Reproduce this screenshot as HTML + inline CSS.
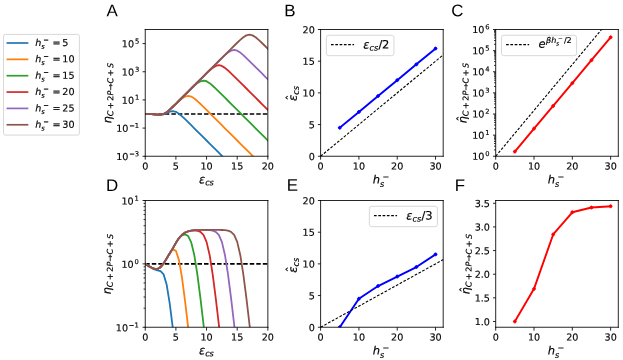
<!DOCTYPE html>
<html lang="en">
<head>
<meta charset="utf-8">
<title>Figure</title>
<style>
html,body{margin:0;padding:0;background:#fff;}
body{width:623px;height:360px;overflow:hidden;font-family:"DejaVu Sans","Liberation Sans",sans-serif;}
svg{display:block;}
svg text{text-rendering:geometricPrecision;stroke:#000;stroke-width:0.16px;}
</style>
</head>
<body>
<svg width="623" height="360" viewBox="0 0 623 360">
<defs>
<style>*{stroke-linejoin: round; stroke-linecap: butt}</style>
</defs>
<path d="M 0 360 L 623 360 L 623 0 L 0 0 z" style="fill: #ffffff"/>
<path d="M 145.25 156.25 L 267.85 156.25 L 267.85 29.5 L 145.25 29.5 z" style="fill: #ffffff"/>
<path d="M 145.25 114 L 267.85 114" clip-path="url(#p06cc8337af)" style="fill: none; stroke-dasharray: 4.5,2.03; stroke-dashoffset: 0; stroke: #000000; stroke-width: 1.55"/>
<path d="M 0 0 L 0 3.4" transform="translate(145.25 156.25)" style="stroke: #000000; stroke-width: 0.85"/>
<text style="font-size: 9.614px; font-family: 'DejaVu Sans', sans-serif; text-anchor: middle" transform="translate(145.25 169.624) matrix(1 0.001 0 1 0 0)">0</text>
<path d="M 0 0 L 0 3.4" transform="translate(175.9 156.25)" style="stroke: #000000; stroke-width: 0.85"/>
<text style="font-size: 9.614px; font-family: 'DejaVu Sans', sans-serif; text-anchor: middle" transform="translate(175.9 169.624) matrix(1 0.001 0 1 0 0)">5</text>
<path d="M 0 0 L 0 3.4" transform="translate(206.55 156.25)" style="stroke: #000000; stroke-width: 0.85"/>
<text style="font-size: 9.614px; font-family: 'DejaVu Sans', sans-serif; text-anchor: middle" transform="translate(206.55 169.624) matrix(1 0.001 0 1 0 0)">10</text>
<path d="M 0 0 L 0 3.4" transform="translate(237.2 156.25)" style="stroke: #000000; stroke-width: 0.85"/>
<text style="font-size: 9.614px; font-family: 'DejaVu Sans', sans-serif; text-anchor: middle" transform="translate(237.2 169.624) matrix(1 0.001 0 1 0 0)">15</text>
<path d="M 0 0 L 0 3.4" transform="translate(267.85 156.25)" style="stroke: #000000; stroke-width: 0.85"/>
<text style="font-size: 9.614px; font-family: 'DejaVu Sans', sans-serif; text-anchor: middle" transform="translate(267.85 169.624) matrix(1 0.001 0 1 0 0)">20</text>
<g transform="translate(198.936 183.535)">
<text transform="matrix(1 0.001 0 1 0 0)"><tspan x="0" y="-0.266" style="font-style: italic; font-size: 11.537px; font-family: 'DejaVu Sans', sans-serif">ε</tspan><tspan x="6.216" y="1.703" style="font-style: italic; font-size: 8.076px; font-family: 'DejaVu Sans', sans-serif">cs</tspan></text>
</g>
<path d="M 0 0 L -2.7 0" transform="translate(145.25 156.25)" style="stroke: #000000; stroke-width: 0.85"/>
<g transform="translate(116.888 160.053)">
<text transform="matrix(1 0.001 0 1 0 0)"><tspan x="-0.7" y="-0.064" style="font-size: 9.614px; font-family: 'DejaVu Sans', sans-serif">10</tspan><tspan x="12.343" y="-3.892" style="font-size: 6.73px; font-family: 'DejaVu Sans', sans-serif">−3</tspan></text>
</g>
<path d="M 0 0 L -2.7 0" transform="translate(145.25 128.083)" style="stroke: #000000; stroke-width: 0.85"/>
<g transform="translate(116.888 131.886)">
<text transform="matrix(1 0.001 0 1 0 0)"><tspan x="-0.7" y="-0.064" style="font-size: 9.614px; font-family: 'DejaVu Sans', sans-serif">10</tspan><tspan x="12.343" y="-3.892" style="font-size: 6.73px; font-family: 'DejaVu Sans', sans-serif">−1</tspan></text>
</g>
<path d="M 0 0 L -2.7 0" transform="translate(145.25 99.917)" style="stroke: #000000; stroke-width: 0.85"/>
<g transform="translate(122.56 103.719)">
<text transform="matrix(1 0.001 0 1 0 0)"><tspan x="-0.7" y="-0.064" style="font-size: 9.614px; font-family: 'DejaVu Sans', sans-serif">10</tspan><tspan x="12.343" y="-3.892" style="font-size: 6.73px; font-family: 'DejaVu Sans', sans-serif">1</tspan></text>
</g>
<path d="M 0 0 L -2.7 0" transform="translate(145.25 71.75)" style="stroke: #000000; stroke-width: 0.85"/>
<g transform="translate(122.56 75.553)">
<text transform="matrix(1 0.001 0 1 0 0)"><tspan x="-0.7" y="-0.064" style="font-size: 9.614px; font-family: 'DejaVu Sans', sans-serif">10</tspan><tspan x="12.343" y="-3.892" style="font-size: 6.73px; font-family: 'DejaVu Sans', sans-serif">3</tspan></text>
</g>
<path d="M 0 0 L -2.7 0" transform="translate(145.25 43.583)" style="stroke: #000000; stroke-width: 0.85"/>
<g transform="translate(122.56 47.386)">
<text transform="matrix(1 0.001 0 1 0 0)"><tspan x="-0.7" y="-0.064" style="font-size: 9.614px; font-family: 'DejaVu Sans', sans-serif">10</tspan><tspan x="12.343" y="-3.892" style="font-size: 6.73px; font-family: 'DejaVu Sans', sans-serif">5</tspan></text>
</g>
<g transform="translate(111.52 123.506) rotate(-90)">
<text transform="matrix(1 0.001 0 1 0 0)"><tspan x="0" y="-0.281" style="font-style: italic; font-size: 11.537px; font-family: 'DejaVu Sans', sans-serif">η</tspan><tspan x="7.289" y="1.688" style="font-style: italic; font-size: 8.076px; font-family: 'DejaVu Sans', sans-serif">C</tspan><tspan x="14.478" y="1.688" style="font-size: 8.076px; font-family: 'DejaVu Sans', sans-serif">+</tspan><tspan x="22.791" y="1.688" style="font-size: 8.076px; font-family: 'DejaVu Sans', sans-serif">2</tspan><tspan x="27.913" y="1.688" style="font-style: italic; font-size: 8.076px; font-family: 'DejaVu Sans', sans-serif">P</tspan><tspan x="33.029" y="1.688" style="font-size: 8.076px; font-family: 'DejaVu Sans', sans-serif">→</tspan><tspan x="40.035" y="1.688" style="font-style: italic; font-size: 8.076px; font-family: 'DejaVu Sans', sans-serif">C</tspan><tspan x="47.224" y="1.688" style="font-size: 8.076px; font-family: 'DejaVu Sans', sans-serif">+</tspan><tspan x="55.537" y="1.688" style="font-style: italic; font-size: 8.076px; font-family: 'DejaVu Sans', sans-serif">S</tspan></text>
</g>
<path d="M 145.25 113.991 L 148.315 114.051 L 151.38 114.192 L 154.445 114.456 L 157.51 114.796 L 160.575 114.928 L 163.64 114.374 L 166.705 113.055 L 169.77 111.639 L 172.835 111.056 L 175.9 111.825 L 178.965 113.749 L 182.03 116.329 L 185.095 119.201 L 188.16 122.189 L 191.225 125.221 L 194.29 128.27 L 197.355 131.324 L 200.42 134.381 L 203.485 137.439 L 206.55 140.497 L 209.615 143.555 L 212.68 146.613 L 215.745 149.671 L 218.81 152.73 L 221.875 155.788 L 224.94 158.846 L 228.005 161.904 L 231.07 164.962 L 234.135 168.02 L 237.2 171.078 L 240.265 174.137 L 243.33 177.195 L 246.395 180.253 L 249.46 183.311 L 252.525 186.369 L 255.59 189.427 L 258.655 192.486 L 261.72 195.544 L 264.785 198.602 L 267.85 201.66" clip-path="url(#p06cc8337af)" style="fill: none; stroke: #1f77b4; stroke-width: 1.8; stroke-linecap: square"/>
<path d="M 145.25 113.97 L 148.315 114.016 L 151.38 114.137 L 154.445 114.368 L 157.51 114.658 L 160.575 114.704 L 163.64 113.964 L 166.705 112.185 L 169.77 109.666 L 172.835 106.818 L 175.9 103.888 L 178.965 101.033 L 182.03 98.459 L 185.095 96.542 L 188.16 95.807 L 191.225 96.541 L 194.29 98.459 L 197.355 101.038 L 200.42 103.91 L 203.485 106.898 L 206.55 109.93 L 209.615 112.979 L 212.68 116.034 L 215.745 119.091 L 218.81 122.148 L 221.875 125.206 L 224.94 128.264 L 228.005 131.322 L 231.07 134.381 L 234.135 137.439 L 237.2 140.497 L 240.265 143.555 L 243.33 146.613 L 246.395 149.671 L 249.46 152.73 L 252.525 155.788 L 255.59 158.846 L 258.655 161.904 L 261.72 164.962 L 264.785 168.02 L 267.85 171.078" clip-path="url(#p06cc8337af)" style="fill: none; stroke: #ff7f0e; stroke-width: 1.8; stroke-linecap: square"/>
<path d="M 145.25 113.97 L 148.315 114.016 L 151.38 114.136 L 154.445 114.367 L 157.51 114.657 L 160.575 114.702 L 163.64 113.962 L 166.705 112.179 L 169.77 109.651 L 172.835 106.777 L 175.9 103.777 L 178.965 100.738 L 182.03 97.689 L 185.095 94.642 L 188.16 91.61 L 191.225 88.622 L 194.29 85.75 L 197.355 83.171 L 200.42 81.252 L 203.485 80.516 L 206.55 81.25 L 209.615 83.169 L 212.68 85.747 L 215.745 88.619 L 218.81 91.607 L 221.875 94.64 L 224.94 97.688 L 228.005 100.743 L 231.07 103.8 L 234.135 106.857 L 237.2 109.915 L 240.265 112.974 L 243.33 116.032 L 246.395 119.09 L 249.46 122.148 L 252.525 125.206 L 255.59 128.264 L 258.655 131.322 L 261.72 134.381 L 264.785 137.439 L 267.85 140.497" clip-path="url(#p06cc8337af)" style="fill: none; stroke: #2ca02c; stroke-width: 1.8; stroke-linecap: square"/>
<path d="M 145.25 113.97 L 148.315 114.016 L 151.38 114.136 L 154.445 114.367 L 157.51 114.657 L 160.575 114.702 L 163.64 113.962 L 166.705 112.179 L 169.77 109.65 L 172.835 106.776 L 175.9 103.776 L 178.965 100.736 L 182.03 97.683 L 185.095 94.627 L 188.16 91.569 L 191.225 88.512 L 194.29 85.455 L 197.355 82.4 L 200.42 79.352 L 203.485 76.319 L 206.55 73.331 L 209.615 70.459 L 212.68 67.88 L 215.745 65.961 L 218.81 65.226 L 221.875 65.96 L 224.94 67.878 L 228.005 70.457 L 231.07 73.329 L 234.135 76.317 L 237.2 79.349 L 240.265 82.398 L 243.33 85.452 L 246.395 88.509 L 249.46 91.567 L 252.525 94.625 L 255.59 97.683 L 258.655 100.741 L 261.72 103.799 L 264.785 106.857 L 267.85 109.915" clip-path="url(#p06cc8337af)" style="fill: none; stroke: #d62728; stroke-width: 1.8; stroke-linecap: square"/>
<path d="M 145.25 113.97 L 148.315 114.016 L 151.38 114.136 L 154.445 114.367 L 157.51 114.657 L 160.575 114.702 L 163.64 113.962 L 166.705 112.179 L 169.77 109.65 L 172.835 106.776 L 175.9 103.776 L 178.965 100.736 L 182.03 97.683 L 185.095 94.627 L 188.16 91.569 L 191.225 88.511 L 194.29 85.453 L 197.355 82.395 L 200.42 79.337 L 203.485 76.279 L 206.55 73.221 L 209.615 70.164 L 212.68 67.109 L 215.745 64.061 L 218.81 61.029 L 221.875 58.04 L 224.94 55.168 L 228.005 52.589 L 231.07 50.67 L 234.135 49.935 L 237.2 50.669 L 240.265 52.587 L 243.33 55.166 L 246.395 58.038 L 249.46 61.026 L 252.525 64.058 L 255.59 67.107 L 258.655 70.161 L 261.72 73.218 L 264.785 76.276 L 267.85 79.334" clip-path="url(#p06cc8337af)" style="fill: none; stroke: #9467bd; stroke-width: 1.8; stroke-linecap: square"/>
<path d="M 145.25 113.97 L 148.315 114.016 L 151.38 114.136 L 154.445 114.367 L 157.51 114.657 L 160.575 114.702 L 163.64 113.962 L 166.705 112.179 L 169.77 109.65 L 172.835 106.776 L 175.9 103.776 L 178.965 100.736 L 182.03 97.683 L 185.095 94.627 L 188.16 91.569 L 191.225 88.511 L 194.29 85.453 L 197.355 82.395 L 200.42 79.336 L 203.485 76.278 L 206.55 73.22 L 209.615 70.162 L 212.68 67.104 L 215.745 64.046 L 218.81 60.988 L 221.875 57.93 L 224.94 54.873 L 228.005 51.819 L 231.07 48.77 L 234.135 45.738 L 237.2 42.75 L 240.265 39.877 L 243.33 37.298 L 246.395 35.379 L 249.46 34.644 L 252.525 35.378 L 255.59 37.296 L 258.655 39.875 L 261.72 42.747 L 264.785 45.735 L 267.85 48.767" clip-path="url(#p06cc8337af)" style="fill: none; stroke: #8c564b; stroke-width: 1.8; stroke-linecap: square"/>
<path d="M 145.25 156.25 L 145.25 29.5" style="fill: none; stroke: #000000; stroke-width: 0.85; stroke-linejoin: miter; stroke-linecap: square"/>
<path d="M 267.85 156.25 L 267.85 29.5" style="fill: none; stroke: #000000; stroke-width: 0.85; stroke-linejoin: miter; stroke-linecap: square"/>
<path d="M 145.25 156.25 L 267.85 156.25" style="fill: none; stroke: #000000; stroke-width: 0.85; stroke-linejoin: miter; stroke-linecap: square"/>
<path d="M 145.25 29.5 L 267.85 29.5" style="fill: none; stroke: #000000; stroke-width: 0.85; stroke-linejoin: miter; stroke-linecap: square"/>
<path d="M 320.6 156.25 L 443.2 156.25 L 443.2 29.5 L 320.6 29.5 z" style="fill: #ffffff"/>
<path d="M 0 0 L 0 3.4" transform="translate(320.6 156.25)" style="stroke: #000000; stroke-width: 0.85"/>
<text style="font-size: 9.614px; font-family: 'DejaVu Sans', sans-serif; text-anchor: middle" transform="translate(320.6 169.624) matrix(1 0.001 0 1 0 0)">0</text>
<path d="M 0 0 L 0 3.4" transform="translate(358.913 156.25)" style="stroke: #000000; stroke-width: 0.85"/>
<text style="font-size: 9.614px; font-family: 'DejaVu Sans', sans-serif; text-anchor: middle" transform="translate(358.913 169.624) matrix(1 0.001 0 1 0 0)">10</text>
<path d="M 0 0 L 0 3.4" transform="translate(397.225 156.25)" style="stroke: #000000; stroke-width: 0.85"/>
<text style="font-size: 9.614px; font-family: 'DejaVu Sans', sans-serif; text-anchor: middle" transform="translate(397.225 169.624) matrix(1 0.001 0 1 0 0)">20</text>
<path d="M 0 0 L 0 3.4" transform="translate(435.538 156.25)" style="stroke: #000000; stroke-width: 0.85"/>
<text style="font-size: 9.614px; font-family: 'DejaVu Sans', sans-serif; text-anchor: middle" transform="translate(435.538 169.624) matrix(1 0.001 0 1 0 0)">30</text>
<g transform="translate(372.67 184.337)">
<text transform="matrix(1 0.001 0 1 0 0)"><tspan x="0" y="-0.875" style="font-style: italic; font-size: 11.537px; font-family: 'DejaVu Sans', sans-serif">h</tspan><tspan x="7.289" y="2.406" style="font-style: italic; font-size: 8.076px; font-family: 'DejaVu Sans', sans-serif">s</tspan><tspan x="9.752" y="-4.769" style="font-size: 8.076px; font-family: 'DejaVu Sans', sans-serif">−</tspan></text>
</g>
<path d="M 0 0 L -2.7 0" transform="translate(320.6 156.25)" style="stroke: #000000; stroke-width: 0.85"/>
<text style="font-size: 9.614px; font-family: 'DejaVu Sans', sans-serif; text-anchor: end" transform="translate(314.831 159.903) matrix(1 0.001 0 1 0 0)">0</text>
<path d="M 0 0 L -2.7 0" transform="translate(320.6 124.562)" style="stroke: #000000; stroke-width: 0.85"/>
<text style="font-size: 9.614px; font-family: 'DejaVu Sans', sans-serif; text-anchor: end" transform="translate(314.831 128.215) matrix(1 0.001 0 1 0 0)">5</text>
<path d="M 0 0 L -2.7 0" transform="translate(320.6 92.875)" style="stroke: #000000; stroke-width: 0.85"/>
<text style="font-size: 9.614px; font-family: 'DejaVu Sans', sans-serif; text-anchor: end" transform="translate(314.831 96.528) matrix(1 0.001 0 1 0 0)">10</text>
<path d="M 0 0 L -2.7 0" transform="translate(320.6 61.188)" style="stroke: #000000; stroke-width: 0.85"/>
<text style="font-size: 9.614px; font-family: 'DejaVu Sans', sans-serif; text-anchor: end" transform="translate(314.831 64.84) matrix(1 0.001 0 1 0 0)">15</text>
<path d="M 0 0 L -2.7 0" transform="translate(320.6 29.5)" style="stroke: #000000; stroke-width: 0.85"/>
<text style="font-size: 9.614px; font-family: 'DejaVu Sans', sans-serif; text-anchor: end" transform="translate(314.831 33.153) matrix(1 0.001 0 1 0 0)">20</text>
<g transform="translate(297.602 101.047) rotate(-90)">
<text transform="matrix(1 0.001 0 1 0 0)"><tspan x="0" y="-0.948" style="font-style: italic; font-size: 11.537px; font-family: 'DejaVu Sans', sans-serif">ε</tspan><tspan x="6.331" y="1.02" style="font-style: italic; font-size: 8.076px; font-family: 'DejaVu Sans', sans-serif">c</tspan><tspan x="6.426" y="-2.906" style="font-size: 11.537px; font-family: 'DejaVu Sans', sans-serif">̂</tspan><tspan x="10.757" y="1.02" style="font-style: italic; font-size: 8.076px; font-family: 'DejaVu Sans', sans-serif">s</tspan></text>
</g>
<path d="M 339.756 127.731 L 358.913 111.888 L 378.069 96.044 L 397.225 80.2 L 416.381 64.356 L 435.538 48.513" clip-path="url(#p2455b952e3)" style="fill: none; stroke: #0000ff; stroke-width: 1.923; stroke-linecap: square"/>
<g clip-path="url(#p2455b952e3)">
<path d="M 0 1.442 C 0.382 1.442 0.749 1.29 1.02 1.02 C 1.29 0.749 1.442 0.382 1.442 0 C 1.442 -0.382 1.29 -0.749 1.02 -1.02 C 0.749 -1.29 0.382 -1.442 0 -1.442 C -0.382 -1.442 -0.749 -1.29 -1.02 -1.02 C -1.29 -0.749 -1.442 -0.382 -1.442 0 C -1.442 0.382 -1.29 0.749 -1.02 1.02 C -0.749 1.29 -0.382 1.442 0 1.442 z" transform="translate(339.756 127.731)" style="fill: #0000ff; stroke: #0000ff; stroke-width: 0.961"/>
<path d="M 0 1.442 C 0.382 1.442 0.749 1.29 1.02 1.02 C 1.29 0.749 1.442 0.382 1.442 0 C 1.442 -0.382 1.29 -0.749 1.02 -1.02 C 0.749 -1.29 0.382 -1.442 0 -1.442 C -0.382 -1.442 -0.749 -1.29 -1.02 -1.02 C -1.29 -0.749 -1.442 -0.382 -1.442 0 C -1.442 0.382 -1.29 0.749 -1.02 1.02 C -0.749 1.29 -0.382 1.442 0 1.442 z" transform="translate(358.913 111.888)" style="fill: #0000ff; stroke: #0000ff; stroke-width: 0.961"/>
<path d="M 0 1.442 C 0.382 1.442 0.749 1.29 1.02 1.02 C 1.29 0.749 1.442 0.382 1.442 0 C 1.442 -0.382 1.29 -0.749 1.02 -1.02 C 0.749 -1.29 0.382 -1.442 0 -1.442 C -0.382 -1.442 -0.749 -1.29 -1.02 -1.02 C -1.29 -0.749 -1.442 -0.382 -1.442 0 C -1.442 0.382 -1.29 0.749 -1.02 1.02 C -0.749 1.29 -0.382 1.442 0 1.442 z" transform="translate(378.069 96.044)" style="fill: #0000ff; stroke: #0000ff; stroke-width: 0.961"/>
<path d="M 0 1.442 C 0.382 1.442 0.749 1.29 1.02 1.02 C 1.29 0.749 1.442 0.382 1.442 0 C 1.442 -0.382 1.29 -0.749 1.02 -1.02 C 0.749 -1.29 0.382 -1.442 0 -1.442 C -0.382 -1.442 -0.749 -1.29 -1.02 -1.02 C -1.29 -0.749 -1.442 -0.382 -1.442 0 C -1.442 0.382 -1.29 0.749 -1.02 1.02 C -0.749 1.29 -0.382 1.442 0 1.442 z" transform="translate(397.225 80.2)" style="fill: #0000ff; stroke: #0000ff; stroke-width: 0.961"/>
<path d="M 0 1.442 C 0.382 1.442 0.749 1.29 1.02 1.02 C 1.29 0.749 1.442 0.382 1.442 0 C 1.442 -0.382 1.29 -0.749 1.02 -1.02 C 0.749 -1.29 0.382 -1.442 0 -1.442 C -0.382 -1.442 -0.749 -1.29 -1.02 -1.02 C -1.29 -0.749 -1.442 -0.382 -1.442 0 C -1.442 0.382 -1.29 0.749 -1.02 1.02 C -0.749 1.29 -0.382 1.442 0 1.442 z" transform="translate(416.381 64.356)" style="fill: #0000ff; stroke: #0000ff; stroke-width: 0.961"/>
<path d="M 0 1.442 C 0.382 1.442 0.749 1.29 1.02 1.02 C 1.29 0.749 1.442 0.382 1.442 0 C 1.442 -0.382 1.29 -0.749 1.02 -1.02 C 0.749 -1.29 0.382 -1.442 0 -1.442 C -0.382 -1.442 -0.749 -1.29 -1.02 -1.02 C -1.29 -0.749 -1.442 -0.382 -1.442 0 C -1.442 0.382 -1.29 0.749 -1.02 1.02 C -0.749 1.29 -0.382 1.442 0 1.442 z" transform="translate(435.538 48.513)" style="fill: #0000ff; stroke: #0000ff; stroke-width: 0.961"/>
</g>
<path d="M 320.6 156.25 L 473.85 29.5" clip-path="url(#p2455b952e3)" style="fill: none; stroke-dasharray: 2.7,1.6; stroke-dashoffset: 0; stroke: #000000; stroke-width: 1.1"/>
<path d="M 320.6 156.25 L 320.6 29.5" style="fill: none; stroke: #000000; stroke-width: 0.85; stroke-linejoin: miter; stroke-linecap: square"/>
<path d="M 443.2 156.25 L 443.2 29.5" style="fill: none; stroke: #000000; stroke-width: 0.85; stroke-linejoin: miter; stroke-linecap: square"/>
<path d="M 320.6 156.25 L 443.2 156.25" style="fill: none; stroke: #000000; stroke-width: 0.85; stroke-linejoin: miter; stroke-linecap: square"/>
<path d="M 320.6 29.5 L 443.2 29.5" style="fill: none; stroke: #000000; stroke-width: 0.85; stroke-linejoin: miter; stroke-linecap: square"/>
<path d="M 328.676 55.664 L 391.668 55.664 Q 393.976 55.664 393.976 53.356 L 393.976 37.576 Q 393.976 35.269 391.668 35.269 L 328.676 35.269 Q 326.369 35.269 326.369 37.576 L 326.369 53.356 Q 326.369 55.664 328.676 55.664 z" style="fill: #ffffff; opacity: 0.8; stroke: #cccccc; stroke-width: 0.961; stroke-linejoin: miter"/>
<path d="M 330.983 44.612 L 342.52 44.612 L 354.057 44.612" style="fill: none; stroke-dasharray: 2.7,1.6; stroke-dashoffset: 0; stroke: #000000; stroke-width: 1.1"/>
<g transform="translate(363.287 48.65)">
<text transform="matrix(1 0.001 0 1 0 0)"><tspan x="0" y="-0.094" style="font-style: italic; font-size: 11.537px; font-family: 'DejaVu Sans', sans-serif">ε</tspan><tspan x="6.216" y="1.875" style="font-style: italic; font-size: 8.076px; font-family: 'DejaVu Sans', sans-serif">cs</tspan><tspan x="15.164" y="-0.094" style="font-size: 11.537px; font-family: 'DejaVu Sans', sans-serif">/</tspan><tspan x="18.664" y="-0.094" style="font-size: 11.537px; font-family: 'DejaVu Sans', sans-serif">2</tspan></text>
</g>
<path d="M 495.7 156.25 L 618.3 156.25 L 618.3 29.5 L 495.7 29.5 z" style="fill: #ffffff"/>
<path d="M 0 0 L 0 3.4" transform="translate(495.7 156.25)" style="stroke: #000000; stroke-width: 0.85"/>
<text style="font-size: 9.614px; font-family: 'DejaVu Sans', sans-serif; text-anchor: middle" transform="translate(495.7 169.624) matrix(1 0.001 0 1 0 0)">0</text>
<path d="M 0 0 L 0 3.4" transform="translate(534.013 156.25)" style="stroke: #000000; stroke-width: 0.85"/>
<text style="font-size: 9.614px; font-family: 'DejaVu Sans', sans-serif; text-anchor: middle" transform="translate(534.013 169.624) matrix(1 0.001 0 1 0 0)">10</text>
<path d="M 0 0 L 0 3.4" transform="translate(572.325 156.25)" style="stroke: #000000; stroke-width: 0.85"/>
<text style="font-size: 9.614px; font-family: 'DejaVu Sans', sans-serif; text-anchor: middle" transform="translate(572.325 169.624) matrix(1 0.001 0 1 0 0)">20</text>
<path d="M 0 0 L 0 3.4" transform="translate(610.638 156.25)" style="stroke: #000000; stroke-width: 0.85"/>
<text style="font-size: 9.614px; font-family: 'DejaVu Sans', sans-serif; text-anchor: middle" transform="translate(610.638 169.624) matrix(1 0.001 0 1 0 0)">30</text>
<g transform="translate(547.77 184.337)">
<text transform="matrix(1 0.001 0 1 0 0)"><tspan x="0" y="-0.875" style="font-style: italic; font-size: 11.537px; font-family: 'DejaVu Sans', sans-serif">h</tspan><tspan x="7.289" y="2.406" style="font-style: italic; font-size: 8.076px; font-family: 'DejaVu Sans', sans-serif">s</tspan><tspan x="9.752" y="-4.769" style="font-size: 8.076px; font-family: 'DejaVu Sans', sans-serif">−</tspan></text>
</g>
<path d="M 0 0 L -2.7 0" transform="translate(495.7 156.25)" style="stroke: #000000; stroke-width: 0.85"/>
<g transform="translate(472.91 159.903)">
<text transform="matrix(1 0.001 0 1 0 0)"><tspan x="-0.7" y="-0.064" style="font-size: 9.614px; font-family: 'DejaVu Sans', sans-serif">10</tspan><tspan x="12.343" y="-3.892" style="font-size: 6.73px; font-family: 'DejaVu Sans', sans-serif">0</tspan></text>
</g>
<path d="M 0 0 L -2.7 0" transform="translate(495.7 135.125)" style="stroke: #000000; stroke-width: 0.85"/>
<g transform="translate(472.91 138.778)">
<text transform="matrix(1 0.001 0 1 0 0)"><tspan x="-0.7" y="-0.064" style="font-size: 9.614px; font-family: 'DejaVu Sans', sans-serif">10</tspan><tspan x="12.343" y="-3.892" style="font-size: 6.73px; font-family: 'DejaVu Sans', sans-serif">1</tspan></text>
</g>
<path d="M 0 0 L -2.7 0" transform="translate(495.7 114)" style="stroke: #000000; stroke-width: 0.85"/>
<g transform="translate(472.91 117.653)">
<text transform="matrix(1 0.001 0 1 0 0)"><tspan x="-0.7" y="-0.064" style="font-size: 9.614px; font-family: 'DejaVu Sans', sans-serif">10</tspan><tspan x="12.343" y="-3.892" style="font-size: 6.73px; font-family: 'DejaVu Sans', sans-serif">2</tspan></text>
</g>
<path d="M 0 0 L -2.7 0" transform="translate(495.7 92.875)" style="stroke: #000000; stroke-width: 0.85"/>
<g transform="translate(472.91 96.528)">
<text transform="matrix(1 0.001 0 1 0 0)"><tspan x="-0.7" y="-0.064" style="font-size: 9.614px; font-family: 'DejaVu Sans', sans-serif">10</tspan><tspan x="12.343" y="-3.892" style="font-size: 6.73px; font-family: 'DejaVu Sans', sans-serif">3</tspan></text>
</g>
<path d="M 0 0 L -2.7 0" transform="translate(495.7 71.75)" style="stroke: #000000; stroke-width: 0.85"/>
<g transform="translate(472.91 75.403)">
<text transform="matrix(1 0.001 0 1 0 0)"><tspan x="-0.7" y="-0.064" style="font-size: 9.614px; font-family: 'DejaVu Sans', sans-serif">10</tspan><tspan x="12.343" y="-3.892" style="font-size: 6.73px; font-family: 'DejaVu Sans', sans-serif">4</tspan></text>
</g>
<path d="M 0 0 L -2.7 0" transform="translate(495.7 50.625)" style="stroke: #000000; stroke-width: 0.85"/>
<g transform="translate(472.91 54.278)">
<text transform="matrix(1 0.001 0 1 0 0)"><tspan x="-0.7" y="-0.064" style="font-size: 9.614px; font-family: 'DejaVu Sans', sans-serif">10</tspan><tspan x="12.343" y="-3.892" style="font-size: 6.73px; font-family: 'DejaVu Sans', sans-serif">5</tspan></text>
</g>
<path d="M 0 0 L -2.7 0" transform="translate(495.7 29.5)" style="stroke: #000000; stroke-width: 0.85"/>
<g transform="translate(472.91 33.153)">
<text transform="matrix(1 0.001 0 1 0 0)"><tspan x="-0.7" y="-0.064" style="font-size: 9.614px; font-family: 'DejaVu Sans', sans-serif">10</tspan><tspan x="12.343" y="-3.892" style="font-size: 6.73px; font-family: 'DejaVu Sans', sans-serif">6</tspan></text>
</g>
<path d="M 0 0 L -1.7 0" transform="translate(495.7 149.891)" style="stroke: #000000; stroke-width: 0.8"/>
<path d="M 0 0 L -1.7 0" transform="translate(495.7 146.171)" style="stroke: #000000; stroke-width: 0.8"/>
<path d="M 0 0 L -1.7 0" transform="translate(495.7 143.531)" style="stroke: #000000; stroke-width: 0.8"/>
<path d="M 0 0 L -1.7 0" transform="translate(495.7 141.484)" style="stroke: #000000; stroke-width: 0.8"/>
<path d="M 0 0 L -1.7 0" transform="translate(495.7 139.812)" style="stroke: #000000; stroke-width: 0.8"/>
<path d="M 0 0 L -1.7 0" transform="translate(495.7 138.397)" style="stroke: #000000; stroke-width: 0.8"/>
<path d="M 0 0 L -1.7 0" transform="translate(495.7 137.172)" style="stroke: #000000; stroke-width: 0.8"/>
<path d="M 0 0 L -1.7 0" transform="translate(495.7 136.092)" style="stroke: #000000; stroke-width: 0.8"/>
<path d="M 0 0 L -1.7 0" transform="translate(495.7 128.766)" style="stroke: #000000; stroke-width: 0.8"/>
<path d="M 0 0 L -1.7 0" transform="translate(495.7 125.046)" style="stroke: #000000; stroke-width: 0.8"/>
<path d="M 0 0 L -1.7 0" transform="translate(495.7 122.406)" style="stroke: #000000; stroke-width: 0.8"/>
<path d="M 0 0 L -1.7 0" transform="translate(495.7 120.359)" style="stroke: #000000; stroke-width: 0.8"/>
<path d="M 0 0 L -1.7 0" transform="translate(495.7 118.687)" style="stroke: #000000; stroke-width: 0.8"/>
<path d="M 0 0 L -1.7 0" transform="translate(495.7 117.272)" style="stroke: #000000; stroke-width: 0.8"/>
<path d="M 0 0 L -1.7 0" transform="translate(495.7 116.047)" style="stroke: #000000; stroke-width: 0.8"/>
<path d="M 0 0 L -1.7 0" transform="translate(495.7 114.967)" style="stroke: #000000; stroke-width: 0.8"/>
<path d="M 0 0 L -1.7 0" transform="translate(495.7 107.641)" style="stroke: #000000; stroke-width: 0.8"/>
<path d="M 0 0 L -1.7 0" transform="translate(495.7 103.921)" style="stroke: #000000; stroke-width: 0.8"/>
<path d="M 0 0 L -1.7 0" transform="translate(495.7 101.281)" style="stroke: #000000; stroke-width: 0.8"/>
<path d="M 0 0 L -1.7 0" transform="translate(495.7 99.234)" style="stroke: #000000; stroke-width: 0.8"/>
<path d="M 0 0 L -1.7 0" transform="translate(495.7 97.562)" style="stroke: #000000; stroke-width: 0.8"/>
<path d="M 0 0 L -1.7 0" transform="translate(495.7 96.147)" style="stroke: #000000; stroke-width: 0.8"/>
<path d="M 0 0 L -1.7 0" transform="translate(495.7 94.922)" style="stroke: #000000; stroke-width: 0.8"/>
<path d="M 0 0 L -1.7 0" transform="translate(495.7 93.842)" style="stroke: #000000; stroke-width: 0.8"/>
<path d="M 0 0 L -1.7 0" transform="translate(495.7 86.516)" style="stroke: #000000; stroke-width: 0.8"/>
<path d="M 0 0 L -1.7 0" transform="translate(495.7 82.796)" style="stroke: #000000; stroke-width: 0.8"/>
<path d="M 0 0 L -1.7 0" transform="translate(495.7 80.156)" style="stroke: #000000; stroke-width: 0.8"/>
<path d="M 0 0 L -1.7 0" transform="translate(495.7 78.109)" style="stroke: #000000; stroke-width: 0.8"/>
<path d="M 0 0 L -1.7 0" transform="translate(495.7 76.437)" style="stroke: #000000; stroke-width: 0.8"/>
<path d="M 0 0 L -1.7 0" transform="translate(495.7 75.022)" style="stroke: #000000; stroke-width: 0.8"/>
<path d="M 0 0 L -1.7 0" transform="translate(495.7 73.797)" style="stroke: #000000; stroke-width: 0.8"/>
<path d="M 0 0 L -1.7 0" transform="translate(495.7 72.717)" style="stroke: #000000; stroke-width: 0.8"/>
<path d="M 0 0 L -1.7 0" transform="translate(495.7 65.391)" style="stroke: #000000; stroke-width: 0.8"/>
<path d="M 0 0 L -1.7 0" transform="translate(495.7 61.671)" style="stroke: #000000; stroke-width: 0.8"/>
<path d="M 0 0 L -1.7 0" transform="translate(495.7 59.031)" style="stroke: #000000; stroke-width: 0.8"/>
<path d="M 0 0 L -1.7 0" transform="translate(495.7 56.984)" style="stroke: #000000; stroke-width: 0.8"/>
<path d="M 0 0 L -1.7 0" transform="translate(495.7 55.312)" style="stroke: #000000; stroke-width: 0.8"/>
<path d="M 0 0 L -1.7 0" transform="translate(495.7 53.897)" style="stroke: #000000; stroke-width: 0.8"/>
<path d="M 0 0 L -1.7 0" transform="translate(495.7 52.672)" style="stroke: #000000; stroke-width: 0.8"/>
<path d="M 0 0 L -1.7 0" transform="translate(495.7 51.592)" style="stroke: #000000; stroke-width: 0.8"/>
<path d="M 0 0 L -1.7 0" transform="translate(495.7 44.266)" style="stroke: #000000; stroke-width: 0.8"/>
<path d="M 0 0 L -1.7 0" transform="translate(495.7 40.546)" style="stroke: #000000; stroke-width: 0.8"/>
<path d="M 0 0 L -1.7 0" transform="translate(495.7 37.906)" style="stroke: #000000; stroke-width: 0.8"/>
<path d="M 0 0 L -1.7 0" transform="translate(495.7 35.859)" style="stroke: #000000; stroke-width: 0.8"/>
<path d="M 0 0 L -1.7 0" transform="translate(495.7 34.187)" style="stroke: #000000; stroke-width: 0.8"/>
<path d="M 0 0 L -1.7 0" transform="translate(495.7 32.772)" style="stroke: #000000; stroke-width: 0.8"/>
<path d="M 0 0 L -1.7 0" transform="translate(495.7 31.547)" style="stroke: #000000; stroke-width: 0.8"/>
<path d="M 0 0 L -1.7 0" transform="translate(495.7 30.467)" style="stroke: #000000; stroke-width: 0.8"/>
<g transform="translate(467.542 123.564) rotate(-90)">
<text transform="matrix(1 0.001 0 1 0 0)"><tspan x="0" y="-0.964" style="font-style: italic; font-size: 11.537px; font-family: 'DejaVu Sans', sans-serif">η</tspan><tspan x="7.403" y="1.005" style="font-style: italic; font-size: 8.076px; font-family: 'DejaVu Sans', sans-serif">C</tspan><tspan x="7.894" y="-2.106" style="font-size: 11.537px; font-family: 'DejaVu Sans', sans-serif">̂</tspan><tspan x="14.593" y="1.005" style="font-size: 8.076px; font-family: 'DejaVu Sans', sans-serif">+</tspan><tspan x="22.906" y="1.005" style="font-size: 8.076px; font-family: 'DejaVu Sans', sans-serif">2</tspan><tspan x="28.028" y="1.005" style="font-style: italic; font-size: 8.076px; font-family: 'DejaVu Sans', sans-serif">P</tspan><tspan x="33.143" y="1.005" style="font-size: 8.076px; font-family: 'DejaVu Sans', sans-serif">→</tspan><tspan x="40.15" y="1.005" style="font-style: italic; font-size: 8.076px; font-family: 'DejaVu Sans', sans-serif">C</tspan><tspan x="47.339" y="1.005" style="font-size: 8.076px; font-family: 'DejaVu Sans', sans-serif">+</tspan><tspan x="55.652" y="1.005" style="font-style: italic; font-size: 8.076px; font-family: 'DejaVu Sans', sans-serif">S</tspan></text>
</g>
<path d="M 514.856 151.602 L 534.013 128.576 L 553.169 105.972 L 572.325 83.157 L 591.481 60.195 L 610.638 37.316" clip-path="url(#p77d1679cb2)" style="fill: none; stroke: #ff0000; stroke-width: 1.923; stroke-linecap: square"/>
<g clip-path="url(#p77d1679cb2)">
<path d="M 0 1.442 C 0.382 1.442 0.749 1.29 1.02 1.02 C 1.29 0.749 1.442 0.382 1.442 0 C 1.442 -0.382 1.29 -0.749 1.02 -1.02 C 0.749 -1.29 0.382 -1.442 0 -1.442 C -0.382 -1.442 -0.749 -1.29 -1.02 -1.02 C -1.29 -0.749 -1.442 -0.382 -1.442 0 C -1.442 0.382 -1.29 0.749 -1.02 1.02 C -0.749 1.29 -0.382 1.442 0 1.442 z" transform="translate(514.856 151.602)" style="fill: #ff0000; stroke: #ff0000; stroke-width: 0.961"/>
<path d="M 0 1.442 C 0.382 1.442 0.749 1.29 1.02 1.02 C 1.29 0.749 1.442 0.382 1.442 0 C 1.442 -0.382 1.29 -0.749 1.02 -1.02 C 0.749 -1.29 0.382 -1.442 0 -1.442 C -0.382 -1.442 -0.749 -1.29 -1.02 -1.02 C -1.29 -0.749 -1.442 -0.382 -1.442 0 C -1.442 0.382 -1.29 0.749 -1.02 1.02 C -0.749 1.29 -0.382 1.442 0 1.442 z" transform="translate(534.013 128.576)" style="fill: #ff0000; stroke: #ff0000; stroke-width: 0.961"/>
<path d="M 0 1.442 C 0.382 1.442 0.749 1.29 1.02 1.02 C 1.29 0.749 1.442 0.382 1.442 0 C 1.442 -0.382 1.29 -0.749 1.02 -1.02 C 0.749 -1.29 0.382 -1.442 0 -1.442 C -0.382 -1.442 -0.749 -1.29 -1.02 -1.02 C -1.29 -0.749 -1.442 -0.382 -1.442 0 C -1.442 0.382 -1.29 0.749 -1.02 1.02 C -0.749 1.29 -0.382 1.442 0 1.442 z" transform="translate(553.169 105.972)" style="fill: #ff0000; stroke: #ff0000; stroke-width: 0.961"/>
<path d="M 0 1.442 C 0.382 1.442 0.749 1.29 1.02 1.02 C 1.29 0.749 1.442 0.382 1.442 0 C 1.442 -0.382 1.29 -0.749 1.02 -1.02 C 0.749 -1.29 0.382 -1.442 0 -1.442 C -0.382 -1.442 -0.749 -1.29 -1.02 -1.02 C -1.29 -0.749 -1.442 -0.382 -1.442 0 C -1.442 0.382 -1.29 0.749 -1.02 1.02 C -0.749 1.29 -0.382 1.442 0 1.442 z" transform="translate(572.325 83.157)" style="fill: #ff0000; stroke: #ff0000; stroke-width: 0.961"/>
<path d="M 0 1.442 C 0.382 1.442 0.749 1.29 1.02 1.02 C 1.29 0.749 1.442 0.382 1.442 0 C 1.442 -0.382 1.29 -0.749 1.02 -1.02 C 0.749 -1.29 0.382 -1.442 0 -1.442 C -0.382 -1.442 -0.749 -1.29 -1.02 -1.02 C -1.29 -0.749 -1.442 -0.382 -1.442 0 C -1.442 0.382 -1.29 0.749 -1.02 1.02 C -0.749 1.29 -0.382 1.442 0 1.442 z" transform="translate(591.481 60.195)" style="fill: #ff0000; stroke: #ff0000; stroke-width: 0.961"/>
<path d="M 0 1.442 C 0.382 1.442 0.749 1.29 1.02 1.02 C 1.29 0.749 1.442 0.382 1.442 0 C 1.442 -0.382 1.29 -0.749 1.02 -1.02 C 0.749 -1.29 0.382 -1.442 0 -1.442 C -0.382 -1.442 -0.749 -1.29 -1.02 -1.02 C -1.29 -0.749 -1.442 -0.382 -1.442 0 C -1.442 0.382 -1.29 0.749 -1.02 1.02 C -0.749 1.29 -0.382 1.442 0 1.442 z" transform="translate(610.638 37.316)" style="fill: #ff0000; stroke: #ff0000; stroke-width: 0.961"/>
</g>
<path d="M 495.7 156.25 L 624 2.634" clip-path="url(#p77d1679cb2)" style="fill: none; stroke-dasharray: 2.7,1.6; stroke-dashoffset: 0; stroke: #000000; stroke-width: 1.1"/>
<path d="M 495.7 156.25 L 495.7 29.5" style="fill: none; stroke: #000000; stroke-width: 0.85; stroke-linejoin: miter; stroke-linecap: square"/>
<path d="M 618.3 156.25 L 618.3 29.5" style="fill: none; stroke: #000000; stroke-width: 0.85; stroke-linejoin: miter; stroke-linecap: square"/>
<path d="M 495.7 156.25 L 618.3 156.25" style="fill: none; stroke: #000000; stroke-width: 0.85; stroke-linejoin: miter; stroke-linecap: square"/>
<path d="M 495.7 29.5 L 618.3 29.5" style="fill: none; stroke: #000000; stroke-width: 0.85; stroke-linejoin: miter; stroke-linecap: square"/>
<path d="M 503.776 55.664 L 574.267 55.664 Q 576.575 55.664 576.575 53.356 L 576.575 37.576 Q 576.575 35.269 574.267 35.269 L 503.776 35.269 Q 501.469 35.269 501.469 37.576 L 501.469 53.356 Q 501.469 55.664 503.776 55.664 z" style="fill: #ffffff; opacity: 0.8; stroke: #cccccc; stroke-width: 0.961; stroke-linejoin: miter"/>
<path d="M 506.083 44.612 L 517.62 44.612 L 529.157 44.612" style="fill: none; stroke-dasharray: 2.7,1.6; stroke-dashoffset: 0; stroke: #000000; stroke-width: 1.1"/>
<g transform="translate(538.387 48.65)">
<text transform="matrix(1 0.001 0 1 0 0)"><tspan x="0" y="-0.975" style="font-style: italic; font-size: 11.537px; font-family: 'DejaVu Sans', sans-serif">e</tspan><tspan x="7.633" y="-5.569" style="font-style: italic; font-size: 8.076px; font-family: 'DejaVu Sans', sans-serif">βh</tspan><tspan x="17.872" y="-3.272" style="font-style: italic; font-size: 5.653px; font-family: 'DejaVu Sans', sans-serif">s</tspan><tspan x="19.597" y="-8.784" style="font-size: 5.653px; font-family: 'DejaVu Sans', sans-serif">−</tspan><tspan x="25.646" y="-5.569" style="font-size: 8.076px; font-family: 'DejaVu Sans', sans-serif">/</tspan><tspan x="28.095" y="-5.569" style="font-size: 8.076px; font-family: 'DejaVu Sans', sans-serif">2</tspan></text>
</g>
<path d="M 145.25 327.25 L 267.85 327.25 L 267.85 200.5 L 145.25 200.5 z" style="fill: #ffffff"/>
<path d="M 145.25 263.875 L 267.85 263.875" clip-path="url(#p5957c09c68)" style="fill: none; stroke-dasharray: 4.5,2.03; stroke-dashoffset: 0; stroke: #000000; stroke-width: 1.55"/>
<path d="M 0 0 L 0 3.4" transform="translate(145.25 327.25)" style="stroke: #000000; stroke-width: 0.85"/>
<text style="font-size: 9.614px; font-family: 'DejaVu Sans', sans-serif; text-anchor: middle" transform="translate(145.25 340.624) matrix(1 0.001 0 1 0 0)">0</text>
<path d="M 0 0 L 0 3.4" transform="translate(175.9 327.25)" style="stroke: #000000; stroke-width: 0.85"/>
<text style="font-size: 9.614px; font-family: 'DejaVu Sans', sans-serif; text-anchor: middle" transform="translate(175.9 340.624) matrix(1 0.001 0 1 0 0)">5</text>
<path d="M 0 0 L 0 3.4" transform="translate(206.55 327.25)" style="stroke: #000000; stroke-width: 0.85"/>
<text style="font-size: 9.614px; font-family: 'DejaVu Sans', sans-serif; text-anchor: middle" transform="translate(206.55 340.624) matrix(1 0.001 0 1 0 0)">10</text>
<path d="M 0 0 L 0 3.4" transform="translate(237.2 327.25)" style="stroke: #000000; stroke-width: 0.85"/>
<text style="font-size: 9.614px; font-family: 'DejaVu Sans', sans-serif; text-anchor: middle" transform="translate(237.2 340.624) matrix(1 0.001 0 1 0 0)">15</text>
<path d="M 0 0 L 0 3.4" transform="translate(267.85 327.25)" style="stroke: #000000; stroke-width: 0.85"/>
<text style="font-size: 9.614px; font-family: 'DejaVu Sans', sans-serif; text-anchor: middle" transform="translate(267.85 340.624) matrix(1 0.001 0 1 0 0)">20</text>
<g transform="translate(198.936 354.535)">
<text transform="matrix(1 0.001 0 1 0 0)"><tspan x="0" y="-0.266" style="font-style: italic; font-size: 11.537px; font-family: 'DejaVu Sans', sans-serif">ε</tspan><tspan x="6.216" y="1.703" style="font-style: italic; font-size: 8.076px; font-family: 'DejaVu Sans', sans-serif">cs</tspan></text>
</g>
<path d="M 0 0 L -2.7 0" transform="translate(145.25 327.25)" style="stroke: #000000; stroke-width: 0.85"/>
<g transform="translate(116.488 331.303)">
<text transform="matrix(1 0.001 0 1 0 0)"><tspan x="-0.7" y="-0.064" style="font-size: 9.614px; font-family: 'DejaVu Sans', sans-serif">10</tspan><tspan x="12.343" y="-3.892" style="font-size: 6.73px; font-family: 'DejaVu Sans', sans-serif">−1</tspan></text>
</g>
<path d="M 0 0 L -2.7 0" transform="translate(145.25 263.875)" style="stroke: #000000; stroke-width: 0.85"/>
<g transform="translate(122.16 267.928)">
<text transform="matrix(1 0.001 0 1 0 0)"><tspan x="-0.7" y="-0.064" style="font-size: 9.614px; font-family: 'DejaVu Sans', sans-serif">10</tspan><tspan x="12.343" y="-3.892" style="font-size: 6.73px; font-family: 'DejaVu Sans', sans-serif">0</tspan></text>
</g>
<path d="M 0 0 L -2.7 0" transform="translate(145.25 200.5)" style="stroke: #000000; stroke-width: 0.85"/>
<g transform="translate(122.16 204.553)">
<text transform="matrix(1 0.001 0 1 0 0)"><tspan x="-0.7" y="-0.064" style="font-size: 9.614px; font-family: 'DejaVu Sans', sans-serif">10</tspan><tspan x="12.343" y="-3.892" style="font-size: 6.73px; font-family: 'DejaVu Sans', sans-serif">1</tspan></text>
</g>
<path d="M 0 0 L -1.7 0" transform="translate(145.25 308.172)" style="stroke: #000000; stroke-width: 0.8"/>
<path d="M 0 0 L -1.7 0" transform="translate(145.25 297.012)" style="stroke: #000000; stroke-width: 0.8"/>
<path d="M 0 0 L -1.7 0" transform="translate(145.25 289.094)" style="stroke: #000000; stroke-width: 0.8"/>
<path d="M 0 0 L -1.7 0" transform="translate(145.25 282.953)" style="stroke: #000000; stroke-width: 0.8"/>
<path d="M 0 0 L -1.7 0" transform="translate(145.25 277.935)" style="stroke: #000000; stroke-width: 0.8"/>
<path d="M 0 0 L -1.7 0" transform="translate(145.25 273.692)" style="stroke: #000000; stroke-width: 0.8"/>
<path d="M 0 0 L -1.7 0" transform="translate(145.25 270.017)" style="stroke: #000000; stroke-width: 0.8"/>
<path d="M 0 0 L -1.7 0" transform="translate(145.25 266.775)" style="stroke: #000000; stroke-width: 0.8"/>
<path d="M 0 0 L -1.7 0" transform="translate(145.25 244.797)" style="stroke: #000000; stroke-width: 0.8"/>
<path d="M 0 0 L -1.7 0" transform="translate(145.25 233.637)" style="stroke: #000000; stroke-width: 0.8"/>
<path d="M 0 0 L -1.7 0" transform="translate(145.25 225.719)" style="stroke: #000000; stroke-width: 0.8"/>
<path d="M 0 0 L -1.7 0" transform="translate(145.25 219.578)" style="stroke: #000000; stroke-width: 0.8"/>
<path d="M 0 0 L -1.7 0" transform="translate(145.25 214.56)" style="stroke: #000000; stroke-width: 0.8"/>
<path d="M 0 0 L -1.7 0" transform="translate(145.25 210.317)" style="stroke: #000000; stroke-width: 0.8"/>
<path d="M 0 0 L -1.7 0" transform="translate(145.25 206.642)" style="stroke: #000000; stroke-width: 0.8"/>
<path d="M 0 0 L -1.7 0" transform="translate(145.25 203.4)" style="stroke: #000000; stroke-width: 0.8"/>
<g transform="translate(111.12 294.506) rotate(-90)">
<text transform="matrix(1 0.001 0 1 0 0)"><tspan x="0" y="-0.281" style="font-style: italic; font-size: 11.537px; font-family: 'DejaVu Sans', sans-serif">η</tspan><tspan x="7.289" y="1.688" style="font-style: italic; font-size: 8.076px; font-family: 'DejaVu Sans', sans-serif">C</tspan><tspan x="14.478" y="1.688" style="font-size: 8.076px; font-family: 'DejaVu Sans', sans-serif">+</tspan><tspan x="22.791" y="1.688" style="font-size: 8.076px; font-family: 'DejaVu Sans', sans-serif">2</tspan><tspan x="27.913" y="1.688" style="font-style: italic; font-size: 8.076px; font-family: 'DejaVu Sans', sans-serif">P</tspan><tspan x="33.029" y="1.688" style="font-size: 8.076px; font-family: 'DejaVu Sans', sans-serif">→</tspan><tspan x="40.035" y="1.688" style="font-style: italic; font-size: 8.076px; font-family: 'DejaVu Sans', sans-serif">C</tspan><tspan x="47.224" y="1.688" style="font-size: 8.076px; font-family: 'DejaVu Sans', sans-serif">+</tspan><tspan x="55.537" y="1.688" style="font-style: italic; font-size: 8.076px; font-family: 'DejaVu Sans', sans-serif">S</tspan></text>
</g>
<path d="M 145.25 263.908 L 148.315 265.986 L 151.38 267.764 L 154.445 269.357 L 157.51 270.406 L 160.575 271.206 L 163.64 274.461 L 166.705 284.851 L 169.77 303.87 L 172.835 328.187 L 175.9 354.63 L 176.618 361" clip-path="url(#p5957c09c68)" style="fill: none; stroke: #1f77b4; stroke-width: 1.8; stroke-linecap: square"/>
<path d="M 145.25 263.875 L 148.315 265.902 L 151.38 267.55 L 154.445 268.805 L 157.51 268.937 L 160.575 267.144 L 163.64 263.384 L 166.705 258.402 L 169.77 253.253 L 172.835 249.361 L 175.9 250.841 L 178.965 260.104 L 182.03 277.961 L 185.095 301.45 L 188.16 327.476 L 191.225 354.459 L 191.959 361" clip-path="url(#p5957c09c68)" style="fill: none; stroke: #ff7f0e; stroke-width: 1.8; stroke-linecap: square"/>
<path d="M 145.25 263.875 L 148.315 265.902 L 151.38 267.55 L 154.445 268.805 L 157.51 268.937 L 160.575 267.145 L 163.64 263.385 L 166.705 258.404 L 169.77 253.258 L 172.835 248.413 L 175.9 242.896 L 178.965 238.314 L 182.03 235.381 L 185.095 234.344 L 188.16 236.078 L 191.225 242.342 L 194.29 255.055 L 197.355 274.402 L 200.42 298.209 L 203.485 324.234 L 206.55 351.187 L 207.651 361" clip-path="url(#p5957c09c68)" style="fill: none; stroke: #2ca02c; stroke-width: 1.8; stroke-linecap: square"/>
<path d="M 145.25 263.875 L 148.315 265.902 L 151.38 267.55 L 154.445 268.805 L 157.51 268.937 L 160.575 267.144 L 163.64 263.384 L 166.705 258.402 L 169.77 253.253 L 172.835 248.394 L 175.9 242.833 L 178.965 238.112 L 182.03 234.765 L 185.095 232.57 L 188.16 231.301 L 191.225 230.699 L 194.29 230.463 L 197.355 230.766 L 200.42 231.909 L 203.485 234.945 L 206.55 241.883 L 209.615 254.935 L 212.68 274.375 L 215.745 298.205 L 218.81 324.234 L 221.875 351.187 L 222.976 361" clip-path="url(#p5957c09c68)" style="fill: none; stroke: #d62728; stroke-width: 1.8; stroke-linecap: square"/>
<path d="M 145.25 263.875 L 148.315 265.902 L 151.38 267.55 L 154.445 268.805 L 157.51 268.937 L 160.575 267.144 L 163.64 263.384 L 166.705 258.402 L 169.77 253.253 L 172.835 248.394 L 175.9 242.832 L 178.965 238.111 L 182.03 234.761 L 185.095 232.558 L 188.16 231.266 L 191.225 230.601 L 194.29 230.194 L 197.355 230.036 L 200.42 229.964 L 203.485 229.948 L 206.55 229.996 L 209.615 230.168 L 212.68 230.633 L 215.745 231.856 L 218.81 234.931 L 221.875 241.883 L 224.94 254.935 L 228.005 274.375 L 231.07 298.205 L 234.135 324.234 L 237.2 351.187 L 238.301 361" clip-path="url(#p5957c09c68)" style="fill: none; stroke: #9467bd; stroke-width: 1.8; stroke-linecap: square"/>
<path d="M 145.25 263.875 L 148.315 265.902 L 151.38 267.55 L 154.445 268.805 L 157.51 268.937 L 160.575 267.144 L 163.64 263.384 L 166.705 258.402 L 169.77 253.253 L 172.835 248.394 L 175.9 242.832 L 178.965 238.111 L 182.03 234.761 L 185.095 232.558 L 188.16 231.266 L 191.225 230.6 L 194.29 230.193 L 197.355 230.031 L 200.42 229.951 L 203.485 229.911 L 206.55 229.895 L 209.615 229.896 L 212.68 229.9 L 215.745 229.908 L 218.81 229.932 L 221.875 229.996 L 224.94 230.168 L 228.005 230.633 L 231.07 231.856 L 234.135 234.931 L 237.2 241.883 L 240.265 254.935 L 243.33 274.375 L 246.395 298.205 L 249.46 324.234 L 252.525 351.187 L 253.626 361" clip-path="url(#p5957c09c68)" style="fill: none; stroke: #8c564b; stroke-width: 1.8; stroke-linecap: square"/>
<path d="M 145.25 327.25 L 145.25 200.5" style="fill: none; stroke: #000000; stroke-width: 0.85; stroke-linejoin: miter; stroke-linecap: square"/>
<path d="M 267.85 327.25 L 267.85 200.5" style="fill: none; stroke: #000000; stroke-width: 0.85; stroke-linejoin: miter; stroke-linecap: square"/>
<path d="M 145.25 327.25 L 267.85 327.25" style="fill: none; stroke: #000000; stroke-width: 0.85; stroke-linejoin: miter; stroke-linecap: square"/>
<path d="M 145.25 200.5 L 267.85 200.5" style="fill: none; stroke: #000000; stroke-width: 0.85; stroke-linejoin: miter; stroke-linecap: square"/>
<path d="M 320.6 327.25 L 443.2 327.25 L 443.2 200.5 L 320.6 200.5 z" style="fill: #ffffff"/>
<path d="M 0 0 L 0 3.4" transform="translate(320.6 327.25)" style="stroke: #000000; stroke-width: 0.85"/>
<text style="font-size: 9.614px; font-family: 'DejaVu Sans', sans-serif; text-anchor: middle" transform="translate(320.6 340.624) matrix(1 0.001 0 1 0 0)">0</text>
<path d="M 0 0 L 0 3.4" transform="translate(358.913 327.25)" style="stroke: #000000; stroke-width: 0.85"/>
<text style="font-size: 9.614px; font-family: 'DejaVu Sans', sans-serif; text-anchor: middle" transform="translate(358.913 340.624) matrix(1 0.001 0 1 0 0)">10</text>
<path d="M 0 0 L 0 3.4" transform="translate(397.225 327.25)" style="stroke: #000000; stroke-width: 0.85"/>
<text style="font-size: 9.614px; font-family: 'DejaVu Sans', sans-serif; text-anchor: middle" transform="translate(397.225 340.624) matrix(1 0.001 0 1 0 0)">20</text>
<path d="M 0 0 L 0 3.4" transform="translate(435.538 327.25)" style="stroke: #000000; stroke-width: 0.85"/>
<text style="font-size: 9.614px; font-family: 'DejaVu Sans', sans-serif; text-anchor: middle" transform="translate(435.538 340.624) matrix(1 0.001 0 1 0 0)">30</text>
<g transform="translate(372.67 355.337)">
<text transform="matrix(1 0.001 0 1 0 0)"><tspan x="0" y="-0.875" style="font-style: italic; font-size: 11.537px; font-family: 'DejaVu Sans', sans-serif">h</tspan><tspan x="7.289" y="2.406" style="font-style: italic; font-size: 8.076px; font-family: 'DejaVu Sans', sans-serif">s</tspan><tspan x="9.752" y="-4.769" style="font-size: 8.076px; font-family: 'DejaVu Sans', sans-serif">−</tspan></text>
</g>
<path d="M 0 0 L -2.7 0" transform="translate(320.6 327.25)" style="stroke: #000000; stroke-width: 0.85"/>
<text style="font-size: 9.614px; font-family: 'DejaVu Sans', sans-serif; text-anchor: end" transform="translate(314.831 330.903) matrix(1 0.001 0 1 0 0)">0</text>
<path d="M 0 0 L -2.7 0" transform="translate(320.6 295.562)" style="stroke: #000000; stroke-width: 0.85"/>
<text style="font-size: 9.614px; font-family: 'DejaVu Sans', sans-serif; text-anchor: end" transform="translate(314.831 299.215) matrix(1 0.001 0 1 0 0)">5</text>
<path d="M 0 0 L -2.7 0" transform="translate(320.6 263.875)" style="stroke: #000000; stroke-width: 0.85"/>
<text style="font-size: 9.614px; font-family: 'DejaVu Sans', sans-serif; text-anchor: end" transform="translate(314.831 267.528) matrix(1 0.001 0 1 0 0)">10</text>
<path d="M 0 0 L -2.7 0" transform="translate(320.6 232.188)" style="stroke: #000000; stroke-width: 0.85"/>
<text style="font-size: 9.614px; font-family: 'DejaVu Sans', sans-serif; text-anchor: end" transform="translate(314.831 235.84) matrix(1 0.001 0 1 0 0)">15</text>
<path d="M 0 0 L -2.7 0" transform="translate(320.6 200.5)" style="stroke: #000000; stroke-width: 0.85"/>
<text style="font-size: 9.614px; font-family: 'DejaVu Sans', sans-serif; text-anchor: end" transform="translate(314.831 204.153) matrix(1 0.001 0 1 0 0)">20</text>
<g transform="translate(297.602 272.847) rotate(-90)">
<text transform="matrix(1 0.001 0 1 0 0)"><tspan x="0" y="-0.948" style="font-style: italic; font-size: 11.537px; font-family: 'DejaVu Sans', sans-serif">ε</tspan><tspan x="6.331" y="1.02" style="font-style: italic; font-size: 8.076px; font-family: 'DejaVu Sans', sans-serif">c</tspan><tspan x="6.426" y="-2.906" style="font-size: 11.537px; font-family: 'DejaVu Sans', sans-serif">̂</tspan><tspan x="10.757" y="1.02" style="font-style: italic; font-size: 8.076px; font-family: 'DejaVu Sans', sans-serif">s</tspan></text>
</g>
<path d="M 339.756 327.25 L 358.913 298.731 L 378.069 286.056 L 397.225 276.55 L 416.381 267.044 L 435.538 254.369" clip-path="url(#pf82d1574a5)" style="fill: none; stroke: #0000ff; stroke-width: 1.923; stroke-linecap: square"/>
<g clip-path="url(#pf82d1574a5)">
<path d="M 0 1.442 C 0.382 1.442 0.749 1.29 1.02 1.02 C 1.29 0.749 1.442 0.382 1.442 0 C 1.442 -0.382 1.29 -0.749 1.02 -1.02 C 0.749 -1.29 0.382 -1.442 0 -1.442 C -0.382 -1.442 -0.749 -1.29 -1.02 -1.02 C -1.29 -0.749 -1.442 -0.382 -1.442 0 C -1.442 0.382 -1.29 0.749 -1.02 1.02 C -0.749 1.29 -0.382 1.442 0 1.442 z" transform="translate(339.756 327.25)" style="fill: #0000ff; stroke: #0000ff; stroke-width: 0.961"/>
<path d="M 0 1.442 C 0.382 1.442 0.749 1.29 1.02 1.02 C 1.29 0.749 1.442 0.382 1.442 0 C 1.442 -0.382 1.29 -0.749 1.02 -1.02 C 0.749 -1.29 0.382 -1.442 0 -1.442 C -0.382 -1.442 -0.749 -1.29 -1.02 -1.02 C -1.29 -0.749 -1.442 -0.382 -1.442 0 C -1.442 0.382 -1.29 0.749 -1.02 1.02 C -0.749 1.29 -0.382 1.442 0 1.442 z" transform="translate(358.913 298.731)" style="fill: #0000ff; stroke: #0000ff; stroke-width: 0.961"/>
<path d="M 0 1.442 C 0.382 1.442 0.749 1.29 1.02 1.02 C 1.29 0.749 1.442 0.382 1.442 0 C 1.442 -0.382 1.29 -0.749 1.02 -1.02 C 0.749 -1.29 0.382 -1.442 0 -1.442 C -0.382 -1.442 -0.749 -1.29 -1.02 -1.02 C -1.29 -0.749 -1.442 -0.382 -1.442 0 C -1.442 0.382 -1.29 0.749 -1.02 1.02 C -0.749 1.29 -0.382 1.442 0 1.442 z" transform="translate(378.069 286.056)" style="fill: #0000ff; stroke: #0000ff; stroke-width: 0.961"/>
<path d="M 0 1.442 C 0.382 1.442 0.749 1.29 1.02 1.02 C 1.29 0.749 1.442 0.382 1.442 0 C 1.442 -0.382 1.29 -0.749 1.02 -1.02 C 0.749 -1.29 0.382 -1.442 0 -1.442 C -0.382 -1.442 -0.749 -1.29 -1.02 -1.02 C -1.29 -0.749 -1.442 -0.382 -1.442 0 C -1.442 0.382 -1.29 0.749 -1.02 1.02 C -0.749 1.29 -0.382 1.442 0 1.442 z" transform="translate(397.225 276.55)" style="fill: #0000ff; stroke: #0000ff; stroke-width: 0.961"/>
<path d="M 0 1.442 C 0.382 1.442 0.749 1.29 1.02 1.02 C 1.29 0.749 1.442 0.382 1.442 0 C 1.442 -0.382 1.29 -0.749 1.02 -1.02 C 0.749 -1.29 0.382 -1.442 0 -1.442 C -0.382 -1.442 -0.749 -1.29 -1.02 -1.02 C -1.29 -0.749 -1.442 -0.382 -1.442 0 C -1.442 0.382 -1.29 0.749 -1.02 1.02 C -0.749 1.29 -0.382 1.442 0 1.442 z" transform="translate(416.381 267.044)" style="fill: #0000ff; stroke: #0000ff; stroke-width: 0.961"/>
<path d="M 0 1.442 C 0.382 1.442 0.749 1.29 1.02 1.02 C 1.29 0.749 1.442 0.382 1.442 0 C 1.442 -0.382 1.29 -0.749 1.02 -1.02 C 0.749 -1.29 0.382 -1.442 0 -1.442 C -0.382 -1.442 -0.749 -1.29 -1.02 -1.02 C -1.29 -0.749 -1.442 -0.382 -1.442 0 C -1.442 0.382 -1.29 0.749 -1.02 1.02 C -0.749 1.29 -0.382 1.442 0 1.442 z" transform="translate(435.538 254.369)" style="fill: #0000ff; stroke: #0000ff; stroke-width: 0.961"/>
</g>
<path d="M 320.6 327.25 L 473.85 242.75" clip-path="url(#pf82d1574a5)" style="fill: none; stroke-dasharray: 2.7,1.6; stroke-dashoffset: 0; stroke: #000000; stroke-width: 1.1"/>
<path d="M 320.6 327.25 L 320.6 200.5" style="fill: none; stroke: #000000; stroke-width: 0.85; stroke-linejoin: miter; stroke-linecap: square"/>
<path d="M 443.2 327.25 L 443.2 200.5" style="fill: none; stroke: #000000; stroke-width: 0.85; stroke-linejoin: miter; stroke-linecap: square"/>
<path d="M 320.6 327.25 L 443.2 327.25" style="fill: none; stroke: #000000; stroke-width: 0.85; stroke-linejoin: miter; stroke-linecap: square"/>
<path d="M 320.6 200.5 L 443.2 200.5" style="fill: none; stroke: #000000; stroke-width: 0.85; stroke-linejoin: miter; stroke-linecap: square"/>
<path d="M 371.67 226.664 L 435.124 226.664 Q 437.431 226.664 437.431 224.356 L 437.431 208.576 Q 437.431 206.269 435.124 206.269 L 371.67 206.269 Q 369.363 206.269 369.363 208.576 L 369.363 224.356 Q 369.363 226.664 371.67 226.664 z" style="fill: #ffffff; opacity: 0.8; stroke: #cccccc; stroke-width: 0.961; stroke-linejoin: miter"/>
<path d="M 373.978 215.612 L 385.515 215.612 L 397.052 215.612" style="fill: none; stroke-dasharray: 2.7,1.6; stroke-dashoffset: 0; stroke: #000000; stroke-width: 1.1"/>
<g transform="translate(406.281 219.65)">
<text transform="matrix(1 0.001 0 1 0 0)"><tspan x="0" y="-0.094" style="font-style: italic; font-size: 11.537px; font-family: 'DejaVu Sans', sans-serif">ε</tspan><tspan x="6.216" y="1.875" style="font-style: italic; font-size: 8.076px; font-family: 'DejaVu Sans', sans-serif">cs</tspan><tspan x="15.164" y="-0.094" style="font-size: 11.537px; font-family: 'DejaVu Sans', sans-serif">/3</tspan></text>
</g>
<path d="M 495.7 327.25 L 618.3 327.25 L 618.3 200.5 L 495.7 200.5 z" style="fill: #ffffff"/>
<path d="M 0 0 L 0 3.4" transform="translate(495.7 327.25)" style="stroke: #000000; stroke-width: 0.85"/>
<text style="font-size: 9.614px; font-family: 'DejaVu Sans', sans-serif; text-anchor: middle" transform="translate(495.7 340.624) matrix(1 0.001 0 1 0 0)">0</text>
<path d="M 0 0 L 0 3.4" transform="translate(534.013 327.25)" style="stroke: #000000; stroke-width: 0.85"/>
<text style="font-size: 9.614px; font-family: 'DejaVu Sans', sans-serif; text-anchor: middle" transform="translate(534.013 340.624) matrix(1 0.001 0 1 0 0)">10</text>
<path d="M 0 0 L 0 3.4" transform="translate(572.325 327.25)" style="stroke: #000000; stroke-width: 0.85"/>
<text style="font-size: 9.614px; font-family: 'DejaVu Sans', sans-serif; text-anchor: middle" transform="translate(572.325 340.624) matrix(1 0.001 0 1 0 0)">20</text>
<path d="M 0 0 L 0 3.4" transform="translate(610.638 327.25)" style="stroke: #000000; stroke-width: 0.85"/>
<text style="font-size: 9.614px; font-family: 'DejaVu Sans', sans-serif; text-anchor: middle" transform="translate(610.638 340.624) matrix(1 0.001 0 1 0 0)">30</text>
<g transform="translate(547.77 355.337)">
<text transform="matrix(1 0.001 0 1 0 0)"><tspan x="0" y="-0.875" style="font-style: italic; font-size: 11.537px; font-family: 'DejaVu Sans', sans-serif">h</tspan><tspan x="7.289" y="2.406" style="font-style: italic; font-size: 8.076px; font-family: 'DejaVu Sans', sans-serif">s</tspan><tspan x="9.752" y="-4.769" style="font-size: 8.076px; font-family: 'DejaVu Sans', sans-serif">−</tspan></text>
</g>
<path d="M 0 0 L -2.7 0" transform="translate(495.7 321.482)" style="stroke: #000000; stroke-width: 0.85"/>
<text style="font-size: 9.614px; font-family: 'DejaVu Sans', sans-serif; text-anchor: end" transform="translate(489.931 325.135) matrix(1 0.001 0 1 0 0)">1.0</text>
<path d="M 0 0 L -2.7 0" transform="translate(495.7 297.844)" style="stroke: #000000; stroke-width: 0.85"/>
<text style="font-size: 9.614px; font-family: 'DejaVu Sans', sans-serif; text-anchor: end" transform="translate(489.931 301.496) matrix(1 0.001 0 1 0 0)">1.5</text>
<path d="M 0 0 L -2.7 0" transform="translate(495.7 274.205)" style="stroke: #000000; stroke-width: 0.85"/>
<text style="font-size: 9.614px; font-family: 'DejaVu Sans', sans-serif; text-anchor: end" transform="translate(489.931 277.858) matrix(1 0.001 0 1 0 0)">2.0</text>
<path d="M 0 0 L -2.7 0" transform="translate(495.7 250.566)" style="stroke: #000000; stroke-width: 0.85"/>
<text style="font-size: 9.614px; font-family: 'DejaVu Sans', sans-serif; text-anchor: end" transform="translate(489.931 254.219) matrix(1 0.001 0 1 0 0)">2.5</text>
<path d="M 0 0 L -2.7 0" transform="translate(495.7 226.928)" style="stroke: #000000; stroke-width: 0.85"/>
<text style="font-size: 9.614px; font-family: 'DejaVu Sans', sans-serif; text-anchor: end" transform="translate(489.931 230.581) matrix(1 0.001 0 1 0 0)">3.0</text>
<path d="M 0 0 L -2.7 0" transform="translate(495.7 203.289)" style="stroke: #000000; stroke-width: 0.85"/>
<text style="font-size: 9.614px; font-family: 'DejaVu Sans', sans-serif; text-anchor: end" transform="translate(489.931 206.942) matrix(1 0.001 0 1 0 0)">3.5</text>
<g transform="translate(470.573 294.564) rotate(-90)">
<text transform="matrix(1 0.001 0 1 0 0)"><tspan x="0" y="-0.964" style="font-style: italic; font-size: 11.537px; font-family: 'DejaVu Sans', sans-serif">η</tspan><tspan x="7.403" y="1.005" style="font-style: italic; font-size: 8.076px; font-family: 'DejaVu Sans', sans-serif">C</tspan><tspan x="7.894" y="-2.106" style="font-size: 11.537px; font-family: 'DejaVu Sans', sans-serif">̂</tspan><tspan x="14.593" y="1.005" style="font-size: 8.076px; font-family: 'DejaVu Sans', sans-serif">+</tspan><tspan x="22.906" y="1.005" style="font-size: 8.076px; font-family: 'DejaVu Sans', sans-serif">2</tspan><tspan x="28.028" y="1.005" style="font-style: italic; font-size: 8.076px; font-family: 'DejaVu Sans', sans-serif">P</tspan><tspan x="33.143" y="1.005" style="font-size: 8.076px; font-family: 'DejaVu Sans', sans-serif">→</tspan><tspan x="40.15" y="1.005" style="font-style: italic; font-size: 8.076px; font-family: 'DejaVu Sans', sans-serif">C</tspan><tspan x="47.339" y="1.005" style="font-size: 8.076px; font-family: 'DejaVu Sans', sans-serif">+</tspan><tspan x="55.652" y="1.005" style="font-style: italic; font-size: 8.076px; font-family: 'DejaVu Sans', sans-serif">S</tspan></text>
</g>
<path d="M 514.856 321.482 L 534.013 288.861 L 553.169 234.492 L 572.325 212.272 L 591.481 207.544 L 610.638 206.268" clip-path="url(#p075c0f779d)" style="fill: none; stroke: #ff0000; stroke-width: 1.923; stroke-linecap: square"/>
<g clip-path="url(#p075c0f779d)">
<path d="M 0 1.442 C 0.382 1.442 0.749 1.29 1.02 1.02 C 1.29 0.749 1.442 0.382 1.442 0 C 1.442 -0.382 1.29 -0.749 1.02 -1.02 C 0.749 -1.29 0.382 -1.442 0 -1.442 C -0.382 -1.442 -0.749 -1.29 -1.02 -1.02 C -1.29 -0.749 -1.442 -0.382 -1.442 0 C -1.442 0.382 -1.29 0.749 -1.02 1.02 C -0.749 1.29 -0.382 1.442 0 1.442 z" transform="translate(514.856 321.482)" style="fill: #ff0000; stroke: #ff0000; stroke-width: 0.961"/>
<path d="M 0 1.442 C 0.382 1.442 0.749 1.29 1.02 1.02 C 1.29 0.749 1.442 0.382 1.442 0 C 1.442 -0.382 1.29 -0.749 1.02 -1.02 C 0.749 -1.29 0.382 -1.442 0 -1.442 C -0.382 -1.442 -0.749 -1.29 -1.02 -1.02 C -1.29 -0.749 -1.442 -0.382 -1.442 0 C -1.442 0.382 -1.29 0.749 -1.02 1.02 C -0.749 1.29 -0.382 1.442 0 1.442 z" transform="translate(534.013 288.861)" style="fill: #ff0000; stroke: #ff0000; stroke-width: 0.961"/>
<path d="M 0 1.442 C 0.382 1.442 0.749 1.29 1.02 1.02 C 1.29 0.749 1.442 0.382 1.442 0 C 1.442 -0.382 1.29 -0.749 1.02 -1.02 C 0.749 -1.29 0.382 -1.442 0 -1.442 C -0.382 -1.442 -0.749 -1.29 -1.02 -1.02 C -1.29 -0.749 -1.442 -0.382 -1.442 0 C -1.442 0.382 -1.29 0.749 -1.02 1.02 C -0.749 1.29 -0.382 1.442 0 1.442 z" transform="translate(553.169 234.492)" style="fill: #ff0000; stroke: #ff0000; stroke-width: 0.961"/>
<path d="M 0 1.442 C 0.382 1.442 0.749 1.29 1.02 1.02 C 1.29 0.749 1.442 0.382 1.442 0 C 1.442 -0.382 1.29 -0.749 1.02 -1.02 C 0.749 -1.29 0.382 -1.442 0 -1.442 C -0.382 -1.442 -0.749 -1.29 -1.02 -1.02 C -1.29 -0.749 -1.442 -0.382 -1.442 0 C -1.442 0.382 -1.29 0.749 -1.02 1.02 C -0.749 1.29 -0.382 1.442 0 1.442 z" transform="translate(572.325 212.272)" style="fill: #ff0000; stroke: #ff0000; stroke-width: 0.961"/>
<path d="M 0 1.442 C 0.382 1.442 0.749 1.29 1.02 1.02 C 1.29 0.749 1.442 0.382 1.442 0 C 1.442 -0.382 1.29 -0.749 1.02 -1.02 C 0.749 -1.29 0.382 -1.442 0 -1.442 C -0.382 -1.442 -0.749 -1.29 -1.02 -1.02 C -1.29 -0.749 -1.442 -0.382 -1.442 0 C -1.442 0.382 -1.29 0.749 -1.02 1.02 C -0.749 1.29 -0.382 1.442 0 1.442 z" transform="translate(591.481 207.544)" style="fill: #ff0000; stroke: #ff0000; stroke-width: 0.961"/>
<path d="M 0 1.442 C 0.382 1.442 0.749 1.29 1.02 1.02 C 1.29 0.749 1.442 0.382 1.442 0 C 1.442 -0.382 1.29 -0.749 1.02 -1.02 C 0.749 -1.29 0.382 -1.442 0 -1.442 C -0.382 -1.442 -0.749 -1.29 -1.02 -1.02 C -1.29 -0.749 -1.442 -0.382 -1.442 0 C -1.442 0.382 -1.29 0.749 -1.02 1.02 C -0.749 1.29 -0.382 1.442 0 1.442 z" transform="translate(610.638 206.268)" style="fill: #ff0000; stroke: #ff0000; stroke-width: 0.961"/>
</g>
<path d="M 495.7 327.25 L 495.7 200.5" style="fill: none; stroke: #000000; stroke-width: 0.85; stroke-linejoin: miter; stroke-linecap: square"/>
<path d="M 618.3 327.25 L 618.3 200.5" style="fill: none; stroke: #000000; stroke-width: 0.85; stroke-linejoin: miter; stroke-linecap: square"/>
<path d="M 495.7 327.25 L 618.3 327.25" style="fill: none; stroke: #000000; stroke-width: 0.85; stroke-linejoin: miter; stroke-linecap: square"/>
<path d="M 495.7 200.5 L 618.3 200.5" style="fill: none; stroke: #000000; stroke-width: 0.85; stroke-linejoin: miter; stroke-linecap: square"/>
<path d="M 5.423 135.1 L 77.477 135.1 Q 79.4 135.1 79.4 133.177 L 79.4 36.323 Q 79.4 34.4 77.477 34.4 L 5.423 34.4 Q 3.5 34.4 3.5 36.323 L 3.5 133.177 Q 3.5 135.1 5.423 135.1 z" style="fill: #ffffff; opacity: 0.8; stroke: #cccccc; stroke-width: 0.961; stroke-linejoin: miter"/>
<text style="font-size: 16.9px; font-family: 'Liberation Sans', sans-serif; stroke: none; text-anchor: start" transform="translate(106.5 16.2) matrix(1 0.001 0 1 0 0)">A</text>
<text style="font-size: 16.9px; font-family: 'Liberation Sans', sans-serif; stroke: none; text-anchor: start" transform="translate(284.2 16.2) matrix(1 0.001 0 1 0 0)">B</text>
<text style="font-size: 16.9px; font-family: 'Liberation Sans', sans-serif; stroke: none; text-anchor: start" transform="translate(451.2 16.2) matrix(1 0.001 0 1 0 0)">C</text>
<text style="font-size: 16.9px; font-family: 'Liberation Sans', sans-serif; stroke: none; text-anchor: start" transform="translate(105.9 191) matrix(1 0.001 0 1 0 0)">D</text>
<text style="font-size: 16.9px; font-family: 'Liberation Sans', sans-serif; stroke: none; text-anchor: start" transform="translate(286.7 190.85) matrix(1 0.001 0 1 0 0)">E</text>
<text style="font-size: 16.9px; font-family: 'Liberation Sans', sans-serif; stroke: none; text-anchor: start" transform="translate(454.8 191) matrix(1 0.001 0 1 0 0)">F</text>
<path d="M 7.4 43.002 L 17.447 43.002 L 27.494 43.002" style="fill: none; stroke: #1f77b4; stroke-width: 1.7; stroke-linecap: square"/>
<g transform="translate(35.185 46.367)">
<text transform="matrix(1 0.001 0 1 0 0)"><tspan x="0" y="-0.406" style="font-style: italic; font-size: 9.614px; font-family: 'DejaVu Sans', sans-serif">h</tspan><tspan x="6.1" y="2.328" style="font-style: italic; font-size: 6.73px; font-family: 'DejaVu Sans', sans-serif">s</tspan><tspan x="8.157" y="-4.234" style="font-size: 6.73px; font-family: 'DejaVu Sans', sans-serif">−</tspan><tspan x="17.263" y="-0.406" style="font-size: 9.614px; font-family: 'DejaVu Sans', sans-serif">=</tspan><tspan x="27.203" y="-0.406" style="font-size: 9.614px; font-family: 'DejaVu Sans', sans-serif">5</tspan></text>
</g>
<path d="M 7.4 59.356 L 17.447 59.356 L 27.494 59.356" style="fill: none; stroke: #ff7f0e; stroke-width: 1.7; stroke-linecap: square"/>
<g transform="translate(35.185 62.721)">
<text transform="matrix(1 0.001 0 1 0 0)"><tspan x="0" y="-0.406" style="font-style: italic; font-size: 9.614px; font-family: 'DejaVu Sans', sans-serif">h</tspan><tspan x="6.1" y="2.328" style="font-style: italic; font-size: 6.73px; font-family: 'DejaVu Sans', sans-serif">s</tspan><tspan x="8.157" y="-4.234" style="font-size: 6.73px; font-family: 'DejaVu Sans', sans-serif">−</tspan><tspan x="17.263" y="-0.406" style="font-size: 9.614px; font-family: 'DejaVu Sans', sans-serif">=</tspan><tspan x="27.203" y="-0.406" style="font-size: 9.614px; font-family: 'DejaVu Sans', sans-serif">10</tspan></text>
</g>
<path d="M 7.4 75.709 L 17.447 75.709 L 27.494 75.709" style="fill: none; stroke: #2ca02c; stroke-width: 1.7; stroke-linecap: square"/>
<g transform="translate(35.185 79.074)">
<text transform="matrix(1 0.001 0 1 0 0)"><tspan x="0" y="-0.406" style="font-style: italic; font-size: 9.614px; font-family: 'DejaVu Sans', sans-serif">h</tspan><tspan x="6.1" y="2.328" style="font-style: italic; font-size: 6.73px; font-family: 'DejaVu Sans', sans-serif">s</tspan><tspan x="8.157" y="-4.234" style="font-size: 6.73px; font-family: 'DejaVu Sans', sans-serif">−</tspan><tspan x="17.263" y="-0.406" style="font-size: 9.614px; font-family: 'DejaVu Sans', sans-serif">=</tspan><tspan x="27.203" y="-0.406" style="font-size: 9.614px; font-family: 'DejaVu Sans', sans-serif">15</tspan></text>
</g>
<path d="M 7.4 92.063 L 17.447 92.063 L 27.494 92.063" style="fill: none; stroke: #d62728; stroke-width: 1.7; stroke-linecap: square"/>
<g transform="translate(35.185 95.428)">
<text transform="matrix(1 0.001 0 1 0 0)"><tspan x="0" y="-0.406" style="font-style: italic; font-size: 9.614px; font-family: 'DejaVu Sans', sans-serif">h</tspan><tspan x="6.1" y="2.328" style="font-style: italic; font-size: 6.73px; font-family: 'DejaVu Sans', sans-serif">s</tspan><tspan x="8.157" y="-4.234" style="font-size: 6.73px; font-family: 'DejaVu Sans', sans-serif">−</tspan><tspan x="17.263" y="-0.406" style="font-size: 9.614px; font-family: 'DejaVu Sans', sans-serif">=</tspan><tspan x="27.203" y="-0.406" style="font-size: 9.614px; font-family: 'DejaVu Sans', sans-serif">20</tspan></text>
</g>
<path d="M 7.4 108.417 L 17.447 108.417 L 27.494 108.417" style="fill: none; stroke: #9467bd; stroke-width: 1.7; stroke-linecap: square"/>
<g transform="translate(35.185 111.782)">
<text transform="matrix(1 0.001 0 1 0 0)"><tspan x="0" y="-0.406" style="font-style: italic; font-size: 9.614px; font-family: 'DejaVu Sans', sans-serif">h</tspan><tspan x="6.1" y="2.328" style="font-style: italic; font-size: 6.73px; font-family: 'DejaVu Sans', sans-serif">s</tspan><tspan x="8.157" y="-4.234" style="font-size: 6.73px; font-family: 'DejaVu Sans', sans-serif">−</tspan><tspan x="17.263" y="-0.406" style="font-size: 9.614px; font-family: 'DejaVu Sans', sans-serif">=</tspan><tspan x="27.203" y="-0.406" style="font-size: 9.614px; font-family: 'DejaVu Sans', sans-serif">25</tspan></text>
</g>
<path d="M 7.4 124.771 L 17.447 124.771 L 27.494 124.771" style="fill: none; stroke: #8c564b; stroke-width: 1.7; stroke-linecap: square"/>
<g transform="translate(35.185 128.136)">
<text transform="matrix(1 0.001 0 1 0 0)"><tspan x="0" y="-0.406" style="font-style: italic; font-size: 9.614px; font-family: 'DejaVu Sans', sans-serif">h</tspan><tspan x="6.1" y="2.328" style="font-style: italic; font-size: 6.73px; font-family: 'DejaVu Sans', sans-serif">s</tspan><tspan x="8.157" y="-4.234" style="font-size: 6.73px; font-family: 'DejaVu Sans', sans-serif">−</tspan><tspan x="17.263" y="-0.406" style="font-size: 9.614px; font-family: 'DejaVu Sans', sans-serif">=</tspan><tspan x="27.203" y="-0.406" style="font-size: 9.614px; font-family: 'DejaVu Sans', sans-serif">30</tspan></text>
</g>
<defs>
<clipPath id="p06cc8337af">
<rect x="145.25" y="29.5" width="122.6" height="126.75"/>
</clipPath>
<clipPath id="p2455b952e3">
<rect x="320.6" y="29.5" width="122.6" height="126.75"/>
</clipPath>
<clipPath id="p77d1679cb2">
<rect x="495.7" y="29.5" width="122.6" height="126.75"/>
</clipPath>
<clipPath id="p5957c09c68">
<rect x="145.25" y="200.5" width="122.6" height="126.75"/>
</clipPath>
<clipPath id="pf82d1574a5">
<rect x="320.6" y="200.5" width="122.6" height="126.75"/>
</clipPath>
<clipPath id="p075c0f779d">
<rect x="495.7" y="200.5" width="122.6" height="126.75"/>
</clipPath>
</defs>
</svg>
</body>
</html>
